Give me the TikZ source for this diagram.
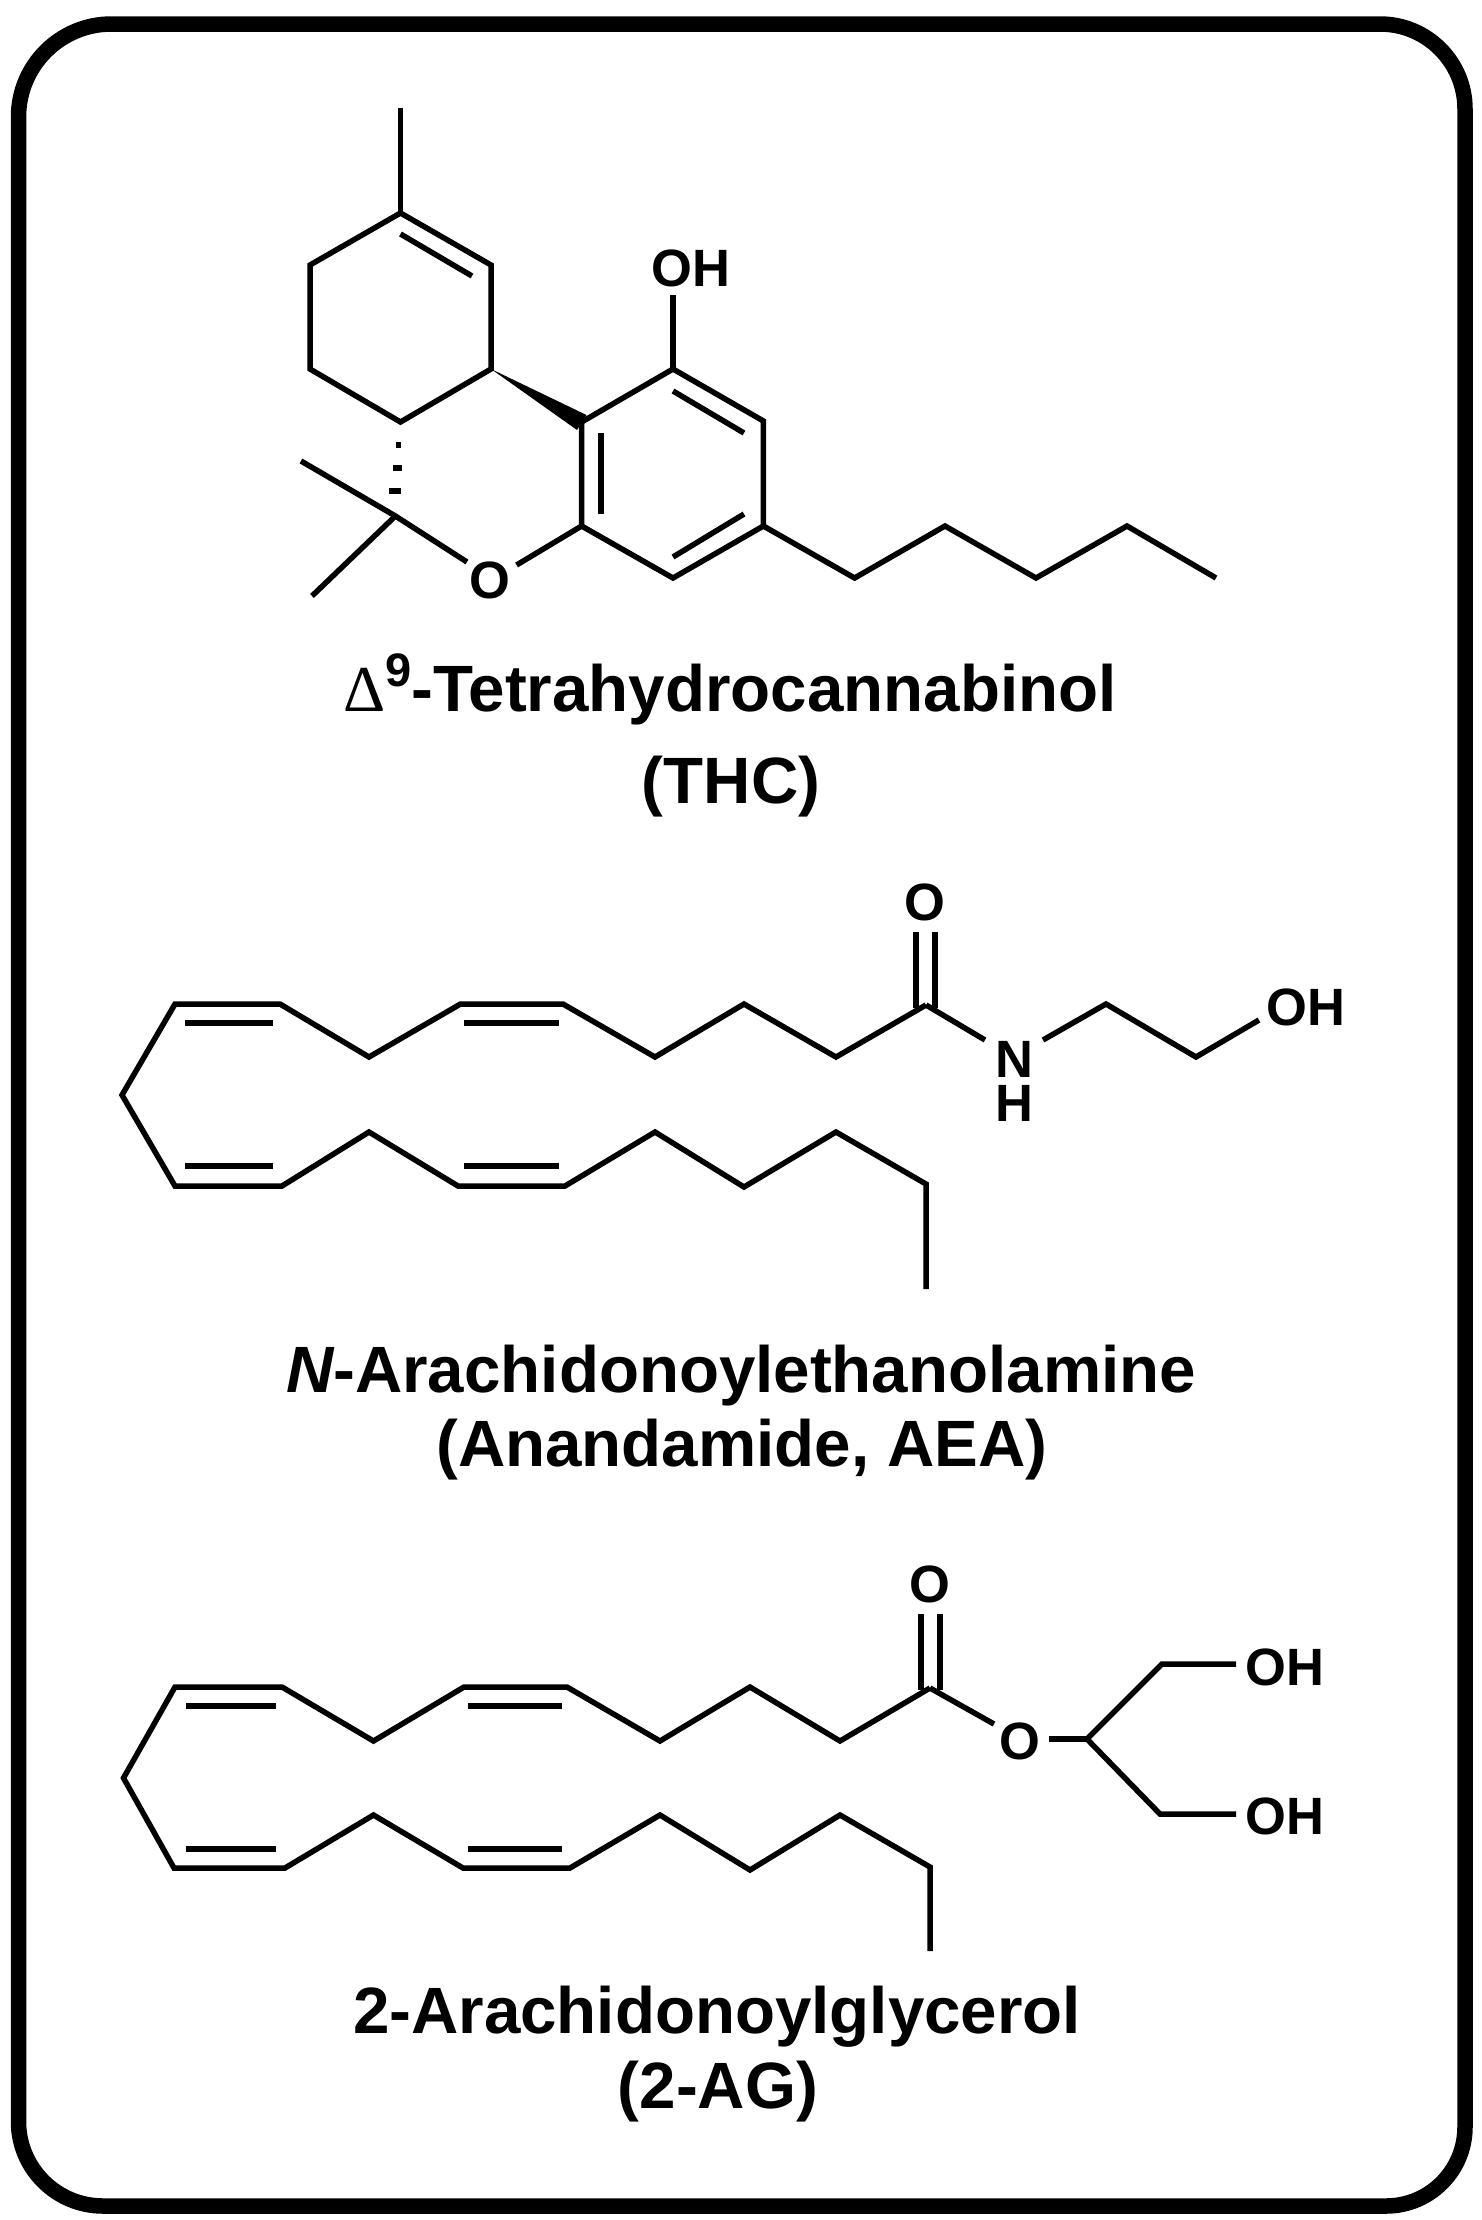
\documentclass[tikz,border=0pt]{standalone}
\usepackage{fontspec}
\setmainfont{Liberation Sans}
\newfontfamily\deltafont{Liberation Serif}
\tikzset{
  bond/.style={draw=black,line width=5.5pt,line join=miter,line cap=butt},
  frameline/.style={draw=black,line width=15.5pt},
  atom/.style={inner sep=0pt,outer sep=0pt,anchor=base,font=\fontsize{52.5}{44}\selectfont\bfseries},
  title/.style={inner sep=0pt,outer sep=0pt,anchor=base,font=\fontsize{65.5}{65.5}\selectfont\bfseries},
}
\begin{document}
\begin{tikzpicture}[x=1pt,y=-1pt]
\useasboundingbox (0,0) rectangle (1481,2220);
\fill[white] (0,0) rectangle (1481,2220);
% frame
\draw[frameline] (18.5,117) arc[start angle=180,end angle=90,radius=93pt] -- (1380,24)
  arc[start angle=90,end angle=0,radius=85pt] -- (1465,2127)
  arc[start angle=0,end angle=-90,radius=79pt] -- (103,2206)
  arc[start angle=-90,end angle=-180,radius=84.5pt] -- cycle;
% THC coordinates
\foreach \n/\x/\y in {
  tm/400.5/108, ta/400.5/213, tb/491/265, tc/491/369, td/400.5/422, te/310/369, tf/310/265,
  tai/400.5/234, tbi/472/276,
  tg/581.6/422, th/673/369, ti/763.4/421, tj/763.4/526, tk/673/578, tl/581.6/526,
  hia/673/391, hib/744/433, gia/601/433, gib/601/514, kia/673/557, kib/744/514,
  tho/673/295,
  p1/854.6/578, p2/945/526, p3/1036/578, p4/1127/526, p5/1216/578,
  tq/395.4/516, tq1/301/461, tq2/312/596, tqo/467/562, tol/516.6/565,
  wa/586.5/415, wb/577/430}
  {\coordinate (\n) at (\x,\y);}
% AEA coordinates
\foreach \n/\x/\y in {
  al/122/1095, au1/175/1004, au2/280/1004, au3/369/1057, au4/460.5/1004, au5/563/1004,
  au6/655/1057, au7/744/1004, au8/836/1057, acc/926/1005,
  aob/916/932, aoc/935/932, acb/916/1008, acd/935/1008,
  anl/985/1040, anr/1043/1040, ap/1106/1004, aq/1196/1057, ahe/1259/1020,
  ad1/175/1186, ad2/282/1186, ad3/369/1132, ad4/458/1186, ad5/565/1186,
  ad6/655/1132, ad7/744/1187, ad8/836/1132, ad9/926/1184, ae/926/1289,
  ai1/185/1023, ai2/273/1023, ai3/464/1023, ai4/559/1023,
  ai5/185/1166, ai6/273/1166, ai7/464/1166, ai8/559/1166}
  {\coordinate (\n) at (\x,\y);}
% 2-AG coordinates
\foreach \n/\x/\y in {
  gl/123.5/1778, gu1/175/1687, gu2/282/1687, gu3/373.5/1741, gu4/464/1687, gu5/567/1687,
  gu6/660/1741, gu7/750/1687, gu8/840/1741, gcc/930/1688,
  gob/921/1614, goc/940/1614, gcb/921/1690, gcd/940/1690,
  gol/994/1724, gor/1049/1739, gm/1087/1739,
  gt1/1162/1664, gt2/1236/1664, gb1/1160/1814, gb2/1236/1814,
  gd1/174/1868, gd2/285/1868, gd3/373.5/1815, gd4/463/1868, gd5/570/1868,
  gd6/660/1815, gd7/750/1870, gd8/840/1815, gd9/930/1867, ge/930/1951,
  gi1/186/1706, gi2/276/1706, gi3/468/1706, gi4/562/1706,
  gi5/186/1849, gi6/276/1849, gi7/468/1849, gi8/562/1849}
  {\coordinate (\n) at (\x,\y);}
% THC bonds
\draw[bond] (tm) -- (ta);
\draw[bond] (ta) -- (tb) -- (tc) -- (td) -- (te) -- (tf) -- cycle;
\draw[bond] (tai) -- (tbi);
\fill[black] (tc) -- (wa) -- (wb) -- cycle;
\draw[bond] (tg) -- (th) -- (ti) -- (tj) -- (tk) -- (tl) -- cycle;
\draw[bond] (hia) -- (hib);
\draw[bond] (gia) -- (gib);
\draw[bond] (kia) -- (kib);
\draw[bond] (th) -- (tho);
\draw[bond] (tj) -- (p1) -- (p2) -- (p3) -- (p4) -- (p5);
\draw[bond] (tq1) -- (tq) -- (tqo);
\draw[bond] (tq2) -- (tq);
\draw[bond] (tol) -- (tl);
\fill[black] (396,442) rectangle (401,448);
\fill[black] (392.5,465) rectangle (401.5,471);
\fill[black] (389,488) rectangle (401,494);
% AEA bonds
\draw[bond] (acc) -- (au8) -- (au7) -- (au6) -- (au5) -- (au4) -- (au3) -- (au2) -- (au1) -- (al)
  -- (ad1) -- (ad2) -- (ad3) -- (ad4) -- (ad5) -- (ad6) -- (ad7) -- (ad8) -- (ad9) -- (ae);
\draw[bond] (aob) -- (acb);
\draw[bond] (aoc) -- (acd);
\draw[bond] (acc) -- (anl);
\draw[bond] (anr) -- (ap) -- (aq) -- (ahe);
\draw[bond] (ai1) -- (ai2);
\draw[bond] (ai3) -- (ai4);
\draw[bond] (ai5) -- (ai6);
\draw[bond] (ai7) -- (ai8);
% 2-AG bonds
\draw[bond] (gcc) -- (gu8) -- (gu7) -- (gu6) -- (gu5) -- (gu4) -- (gu3) -- (gu2) -- (gu1) -- (gl)
  -- (gd1) -- (gd2) -- (gd3) -- (gd4) -- (gd5) -- (gd6) -- (gd7) -- (gd8) -- (gd9) -- (ge);
\draw[bond] (gob) -- (gcb);
\draw[bond] (goc) -- (gcd);
\draw[bond] (gcc) -- (gol);
\draw[bond] (gor) -- (gm);
\draw[bond] (gt2) -- (gt1) -- (gm) -- (gb1) -- (gb2);
\draw[bond] (gi1) -- (gi2);
\draw[bond] (gi3) -- (gi4);
\draw[bond] (gi5) -- (gi6);
\draw[bond] (gi7) -- (gi8);
% atom labels
\node[atom] (lta) at (691,286) {OH};
\node[atom] (ltb) at (490,598) {O};
\node[atom] (laa) at (925,920) {O};
\node[atom,anchor=center,align=center] (lab) at (1014.5,1081) {N\\H};
\node[atom] (lad) at (1306,1025) {OH};
\node[atom] (lga) at (929.5,1602) {O};
\node[atom] (lgb) at (1019.5,1759) {O};
\node[atom] (lgc) at (1285,1685) {OH};
\node[atom] (lgd) at (1285,1834) {OH};
% titles
\node[title] (t1a) at (730,711) {{\deltafont\mdseries Δ}{\fontsize{47}{47}\selectfont\raisebox{25pt}{9}}-Tetrahydrocannabinol};
\node[title] (t1b) at (731,803) {(THC)};
\node[title] (t2a) at (741,1392) {{\itshape N}-Arachidonoylethanolamine};
\node[title] (t2b) at (742,1466) {(Anandamide, AEA)};
\node[title] (t3a) at (717,2033) {2-Arachidonoylglycerol};
\node[title] (t3b) at (718,2108) {(2-AG)};
\end{tikzpicture}
\end{document}
